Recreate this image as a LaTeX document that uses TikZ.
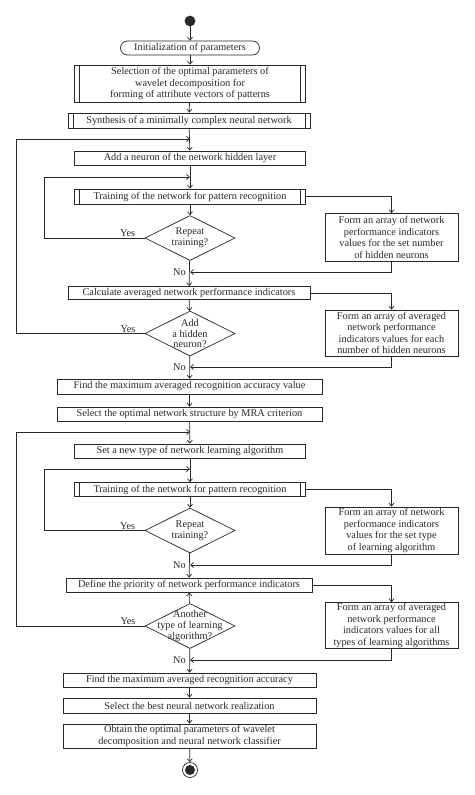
\documentclass[tikz,border=0pt]{standalone}
\usepackage{fontspec}
\setmainfont{Liberation Serif}
\usetikzlibrary{
  arrows.meta,
  positioning,
  shapes.geometric
}
\definecolor{inkgray}{RGB}{40,40,40}

\begin{document}
\begin{tikzpicture}[x=1pt, y=-1pt, line width=0.7pt, color=inkgray,
  every node/.style={font=\fontsize{10.3}{11.5}\selectfont},
  >={Straight Barb[length=3pt,width=5pt]},
  box/.style={draw, inner sep=1pt, align=center},
  pbox/.style={box, path picture={
      \draw ([xshift=5pt]path picture bounding box.north west) -- ([xshift=5pt]path picture bounding box.south west)
            ([xshift=-5pt]path picture bounding box.north east) -- ([xshift=-5pt]path picture bounding box.south east);}},
  sidebox/.style={box, minimum width=133pt},
  dia/.style={draw, diamond, aspect=2, minimum width=90pt, minimum height=45pt, inner sep=0pt},
  dtext/.style={align=center, inner sep=0pt, font=\fontsize{10.3}{10.8}\selectfont},
  lbl/.style={inner sep=1pt},
  startdot/.style={circle, draw, fill=inkgray, minimum size=10pt, inner sep=0pt},
  enddot/.style={circle, draw, minimum size=15pt, inner sep=0pt,
      path picture={\fill[inkgray] (path picture bounding box.center) circle (5pt);}}]

  \useasboundingbox (0,0) rectangle (474,795);

  % Main column, first stage
  \node[startdot] (start) at (190,21) {};
  \node[box, rounded corners=7pt, minimum width=139pt, minimum height=14pt] (init) at (190,48) {Initialization of parameters};
  \node[pbox, minimum width=231pt, minimum height=37pt] (sel) at (190,83.5) {Selection of the optimal parameters of\\wavelet decomposition for\\forming of attribute vectors of patterns};
  \node[pbox, minimum width=242pt, minimum height=15pt] (syn) at (189,120.5) {Synthesis of a minimally complex neural network};
  \node[box, minimum width=231pt, minimum height=14pt] (addn) at (190,158) {Add a neuron of the network hidden layer};
  \node[pbox, minimum width=231pt, minimum height=15pt] (train1) at (190,196.5) {Training of the network for pattern recognition};
  \node[dia] (d1) at (190,238) {};
  \node[dtext] (d1t) at (d1) {Repeat\\training?};
  \node[box, minimum width=242pt, minimum height=13pt] (calc) at (189,293) {Calculate averaged network performance indicators};
  \node[dia] (d2) at (190,333.5) {};
  \node[dtext] (d2t) at (d2) {Add\\a hidden\\neuron?};
  \node[box, minimum width=265pt, minimum height=15pt] (findmax) at (189.5,386.5) {Find the maximum averaged recognition accuracy value};
  \node[box, minimum width=265pt, minimum height=14pt] (selopt) at (189.5,414) {Select the optimal network structure by MRA criterion};

  % Main column, second stage
  \node[box, minimum width=231pt, minimum height=14pt] (setnew) at (190,451) {Set a new type of network learning algorithm};
  \node[pbox, minimum width=231pt, minimum height=14pt] (train2) at (190,489.5) {Training of the network for pattern recognition};
  \node[dia] (d3) at (190,530.5) {};
  \node[dtext] (d3t) at (d3) {Repeat\\training?};
  \node[box, minimum width=246pt, minimum height=14pt] (define) at (189,585) {Define the priority of network performance indicators};
  \node[dia] (d4) at (190,626) {};
  \node[dtext] (d4t) at (d4) {Another\\type of learning\\algorithm?};
  \node[box, minimum width=253pt, minimum height=14pt] (findacc) at (189.5,680) {Find the maximum averaged recognition accuracy};
  \node[box, minimum width=253pt, minimum height=15pt] (selbest) at (189.5,705.5) {Select the best neural network realization};
  \node[box, minimum width=253pt, minimum height=24pt] (obtain) at (189.5,736) {Obtain the optimal parameters of wavelet\\decomposition and neural network classifier};
  \node[enddot] (end) at (190,770) {};

  % Side boxes
  \node[sidebox, minimum height=48pt] (side1) at (391.5,237.5) {Form an array of network\\performance indicators\\values for the set number\\of hidden neurons};
  \node[sidebox, minimum height=46pt] (side2) at (391.5,333) {Form an array of averaged\\network performance\\indicators values for each\\number of hidden neurons};
  \node[sidebox, minimum height=47pt] (side3) at (391.5,530.5) {Form an array of network\\performance indicators\\values for the set type\\of learning algorithm};
  \node[sidebox, minimum height=45pt] (side4) at (391.5,625.5) {Form an array of averaged\\network performance\\indicators values for all\\types of learning algorithms};

  % Junctions
  \coordinate (j1) at (190,139);
  \coordinate (j2) at (190,177);
  \coordinate (j3) at (190,432);
  \coordinate (j4) at (190,469);
  \coordinate (n1) at (190,272);
  \coordinate (n2) at (190,367);
  \coordinate (n3) at (190,565);
  \coordinate (n4) at (190,660);

  % Main flow
  \draw[->] (start) -- (init);
  \draw[->] (init) -- (sel);
  \draw[->] (sel) -- (syn);
  \draw[->] (syn) -- (addn);
  \draw[->] (addn) -- (train1);
  \draw[->] (train1) -- (d1);
  \draw[->] (d1) -- (calc);
  \draw[->] (calc) -- (d2);
  \draw[->] (d2) -- (findmax);
  \draw[->] (findmax) -- (selopt);
  \draw[->] (selopt) -- (setnew);
  \draw[->] (setnew) -- (train2);
  \draw[->] (train2) -- (d3);
  \draw[->] (d3) -- (define);
  \draw[->] (d4) -- (define);
  \draw[->] (d4) -- (findacc);
  \draw[->] (findacc) -- (selbest);
  \draw[->] (selbest) -- (obtain);
  \draw[->] (obtain) -- (end);

  % Loops back
  \draw[->] (d1.west) -- node[lbl, above, pos=0.17] (y1) {Yes} ++(-100,0) |- (j2);
  \draw[->] (d2.west) -- node[lbl, above, pos=0.13] (y2) {Yes} ++(-128,0) |- (j1);
  \draw[->] (d3.west) -- node[lbl, above, pos=0.17] (y3) {Yes} ++(-100,0) |- (j4);
  \draw[->] (d4.west) -- node[lbl, above, pos=0.13] (y4) {Yes} ++(-128,0) |- (j3);

  % To side boxes and back
  \draw[->] (train1.east) -| (side1.north);
  \draw[->] (calc.east) -| (side2.north);
  \draw[->] (train2.east) -| (side3.north);
  \draw[->] (define.east) -| (side4.north);
  \draw[->] (side1.south) |- node[lbl, pos=1, left=3pt] (no1) {No} (n1);
  \draw[->] (side2.south) |- node[lbl, pos=1, left=3pt] (no2) {No} (n2);
  \draw[->] (side3.south) |- node[lbl, pos=1, left=3pt] (no3) {No} (n3);
  \draw[->] (side4.south) |- node[lbl, pos=1, left=3pt] (no4) {No} (n4);
\end{tikzpicture}
\end{document}
